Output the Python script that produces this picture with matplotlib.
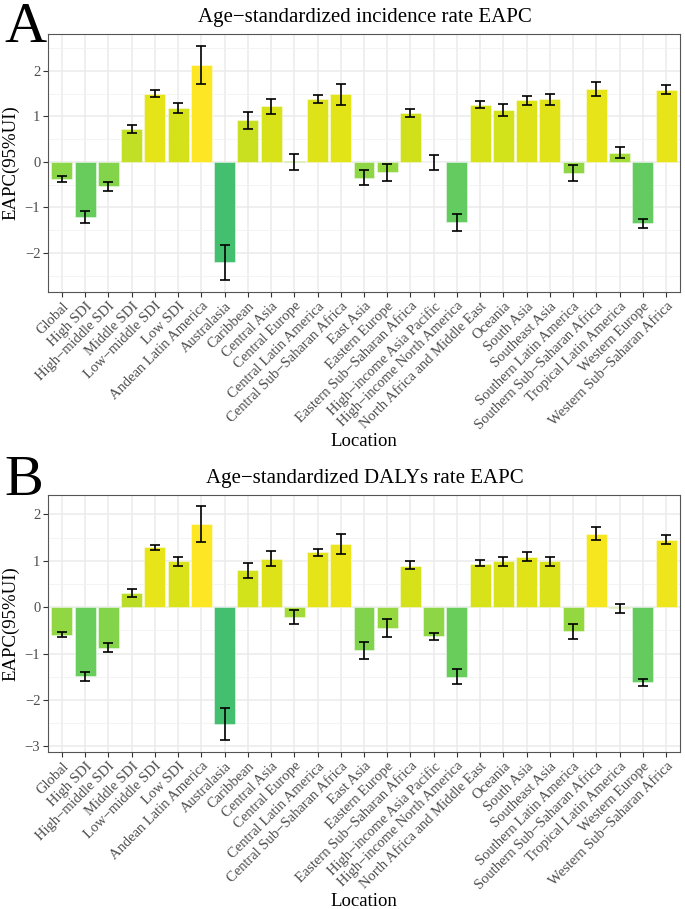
import matplotlib
matplotlib.use("Agg")
import matplotlib.pyplot as plt
import numpy as np
from matplotlib.ticker import MultipleLocator

plt.rcParams['font.family'] = ['Liberation Serif', 'DejaVu Serif']

locations = ["Global", "High SDI", "High\u2212middle SDI", "Middle SDI", "Low\u2212middle SDI",
             "Low SDI", "Andean Latin America", "Australasia", "Caribbean", "Central Asia",
             "Central Europe", "Central Latin America", "Central Sub\u2212Saharan Africa",
             "East Asia", "Eastern Europe", "Eastern Sub\u2212Saharan Africa",
             "High\u2212income Asia Pacific", "High\u2212income North America",
             "North Africa and Middle East", "Oceania", "South Asia", "Southeast Asia",
             "Southern Latin America", "Southern Sub\u2212Saharan Africa",
             "Tropical Latin America", "Western Europe", "Western Sub\u2212Saharan Africa"]

inc_eapc = [-0.38, -1.21, -0.53, 0.73, 1.50, 1.18, 2.12, -2.21, 0.91, 1.22, 0.01, 1.38, 1.49,
            -0.35, -0.22, 1.08, -0.01, -1.33, 1.26, 1.14, 1.37, 1.39, -0.25, 1.61, 0.20, -1.35, 1.59]
inc_low = [-0.44, -1.34, -0.63, 0.645, 1.43, 1.08, 1.71, -2.60, 0.72, 1.055, -0.18, 1.29, 1.26,
           -0.50, -0.42, 0.99, -0.18, -1.52, 1.19, 1.00, 1.26, 1.26, -0.42, 1.45, 0.08, -1.46, 1.49]
inc_high = [-0.315, -1.08, -0.45, 0.81, 1.575, 1.29, 2.54, -1.82, 1.09, 1.38, 0.18, 1.465, 1.71,
            -0.18, -0.04, 1.17, 0.16, -1.14, 1.33, 1.27, 1.45, 1.50, -0.07, 1.76, 0.32, -1.245, 1.68]

daly_eapc = [-0.59, -1.49, -0.88, 0.30, 1.29, 0.99, 1.80, -2.51, 0.80, 1.05, -0.20, 1.19, 1.36,
             -0.92, -0.45, 0.90, -0.63, -1.50, 0.94, 0.99, 1.09, 0.99, -0.51, 1.59, -0.01, -1.61, 1.45]
daly_low = [-0.65, -1.58, -0.97, 0.22, 1.245, 0.89, 1.41, -2.87, 0.63, 0.885, -0.37, 1.10, 1.15,
            -1.11, -0.64, 0.82, -0.71, -1.66, 0.88, 0.89, 0.99, 0.90, -0.68, 1.44, -0.13, -1.70, 1.37]
daly_high = [-0.54, -1.40, -0.78, 0.40, 1.345, 1.08, 2.19, -2.165, 0.96, 1.22, -0.06, 1.26, 1.58,
             -0.75, -0.26, 1.00, -0.55, -1.33, 1.01, 1.09, 1.19, 1.08, -0.36, 1.73, 0.065, -1.555, 1.55]

W, H = 685, 909
fig = plt.figure(figsize=(W / 100, H / 100), dpi=100)
cmap = plt.get_cmap('viridis')

def panel(top, bottom, vals, lo, hi, ylim, yticks, title, letter, loc_base, title_base, letter_base):
    ax = fig.add_axes([48 / W, 1 - bottom / H, 632 / W, (bottom - top) / H])
    v = np.array(vals)
    norm = (v - v.min()) / (v.max() - v.min())
    colors = [cmap(0.7 + 0.3 * n) for n in norm]
    x = np.arange(len(locations))
    ax.set_axisbelow(True)
    ax.bar(x, v, width=0.9, color=colors, edgecolor=(1, 1, 1, 0.5), linewidth=0.6, zorder=2)
    lo = np.array(lo); hi = np.array(hi)
    ax.errorbar(x, v, yerr=[v - lo, hi - v], fmt='none', ecolor='black',
                elinewidth=1.2, capsize=3.4, capthick=1.2, zorder=3)
    ax.set_xlim(-0.6, len(locations) - 0.4)
    ax.set_ylim(*ylim)
    ax.set_yticks(yticks)
    ax.set_yticklabels([str(t).replace('-', '\u2212') for t in yticks])
    ax.yaxis.set_minor_locator(MultipleLocator(0.5))
    ax.set_xticks(x)
    ax.set_xticklabels(locations, rotation=45, ha='right', va='top', rotation_mode='anchor')
    ax.grid(which='major', color='#EBEBEB', linewidth=1.1)
    ax.grid(which='minor', axis='y', color='#F2F2F2', linewidth=0.6)
    ax.tick_params(which='minor', length=0)
    ax.tick_params(which='major', length=3.5, width=0.8, color='#333333',
                   labelcolor='#4D4D4D', labelsize=10.5, pad=2)
    for s in ax.spines.values():
        s.set_color('#555555')
        s.set_linewidth(0.8)
    ax.set_ylabel('EAPC(95%UI)', fontsize=13.5, labelpad=4)
    fig.text(365 / W, 1 - title_base / H, title, ha='center', va='baseline', fontsize=15)
    fig.text(4 / W, 1 - letter_base / H, letter, ha='left', va='baseline', fontsize=42)
    fig.text(364 / W, 1 - loc_base / H, 'Location', ha='center', va='baseline', fontsize=13.5)
    return ax

panel(34, 292, inc_eapc, inc_low, inc_high, (-2.86, 2.81), [-2, -1, 0, 1, 2],
      'Age\u2212standardized incidence rate EAPC', 'A', 446, 22, 42)
panel(495, 752, daly_eapc, daly_low, daly_high, (-3.12, 2.42), [-3, -2, -1, 0, 1, 2],
      'Age\u2212standardized DALYs rate EAPC', 'B', 906, 483, 495)

fig.savefig('out.png', dpi=100)
